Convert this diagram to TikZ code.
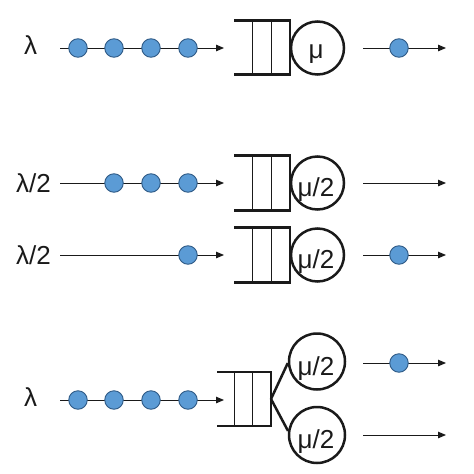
\documentclass[tikz,border=0pt]{standalone}
\usepackage{fontspec}
\setmainfont{Liberation Sans}
\usetikzlibrary{arrows.meta}
\definecolor{dotfill}{HTML}{5B9BD5}
\definecolor{dotline}{HTML}{2E5A86}
\definecolor{ink}{HTML}{1A1A1A}
\begin{document}
\begin{tikzpicture}[x=1pt,y=-1pt,
  dot/.style={circle,draw=dotline,line width=0.9pt,fill=dotfill,inner sep=0pt,minimum size=18.5pt},
  flow/.style={draw=ink,line width=1pt,-{Triangle[length=8pt,width=6.5pt]}},
  qedge/.style={draw=ink,line width=2.8pt},
  qslot/.style={draw=ink,line width=1pt},
  server/.style={circle,draw=ink,line width=2.5pt,inner sep=0pt,minimum size=53pt},
  lab/.style={text=ink,font=\fontsize{26}{30}\selectfont,inner sep=0pt,anchor=base},
  link/.style={draw=ink,line width=2.5pt}]
\useasboundingbox (0,0) rectangle (474,474);
\fill[white] (0,0) rectangle (474,474);

% ---------- row 1 ----------
\node[lab] (l1) at (30.5,54.5) {λ};
\coordinate (a1s) at (60,48);
\coordinate (a1e) at (224,48);
\draw[flow] (a1s) -- (a1e);
\foreach \x [count=\i] in {78,114,151,188} \node[dot] (d1\i) at (\x,48) {};
\draw[qedge] (234,20.7) -- (290,20.7) -- (290,74.3) -- (234,74.3);
\draw[qslot] (252,20.7) -- (252,74.3) (271,20.7) -- (271,74.3);
\node[server] (s1) at (317.5,48) {};
\node[lab] (m1) at (316,58) {μ};
\coordinate (o1s) at (363,48);
\coordinate (o1e) at (446,48);
\draw[flow] (o1s) -- (o1e);
\node[dot] (e1) at (399,48) {};

% ---------- row 2 ----------
\node[lab] (l2) at (33.5,192) {λ/2};
\coordinate (a2s) at (60,183);
\coordinate (a2e) at (224,183);
\draw[flow] (a2s) -- (a2e);
\foreach \x [count=\i] in {114,151,188} \node[dot] (d2\i) at (\x,183) {};
\draw[qedge] (234,155.5) -- (290,155.5) -- (290,210.5) -- (234,210.5);
\draw[qslot] (252,155.5) -- (252,210.5) (271,155.5) -- (271,210.5);
\node[server] (s2) at (317.5,183) {};
\node[lab] (m2) at (316,196) {μ/2};
\coordinate (o2s) at (363,183);
\coordinate (o2e) at (446,183);
\draw[flow] (o2s) -- (o2e);

% ---------- row 3 ----------
\node[lab] (l3) at (33.5,264) {λ/2};
\coordinate (a3s) at (60,255);
\coordinate (a3e) at (224,255);
\draw[flow] (a3s) -- (a3e);
\node[dot] (d31) at (188,255) {};
\draw[qedge] (234,227.5) -- (290,227.5) -- (290,282.5) -- (234,282.5);
\draw[qslot] (252,227.5) -- (252,282.5) (271,227.5) -- (271,282.5);
\node[server] (s3) at (317.5,255) {};
\node[lab] (m3) at (316,268) {μ/2};
\coordinate (o3s) at (363,255);
\coordinate (o3e) at (446,255);
\draw[flow] (o3s) -- (o3e);
\node[dot] (e3) at (399,255) {};

% ---------- row 4 ----------
\node[lab] (l4) at (30.5,406.5) {λ};
\coordinate (a4s) at (60,400);
\coordinate (a4e) at (224,400);
\draw[flow] (a4s) -- (a4e);
\foreach \x [count=\i] in {78,114,151,188} \node[dot] (d4\i) at (\x,400) {};
\draw[qedge] (217,372) -- (271,372) -- (271,426) -- (217,426);
\draw[qslot] (234,372) -- (234,426) (252.5,372) -- (252.5,426);
\coordinate (q4) at (271,399);
\node[server,minimum size=56pt] (s4a) at (317,361.5) {};
\node[server,minimum size=56pt] (s4b) at (317,435) {};
\draw[link] (q4) -- (s4a.183);
\draw[link] (q4) -- (s4b.172);
\node[lab] (m4a) at (316,375) {μ/2};
\node[lab] (m4b) at (316,448) {μ/2};
\coordinate (o4as) at (363,363);
\coordinate (o4ae) at (446,363);
\draw[flow] (o4as) -- (o4ae);
\node[dot] (e4) at (399,363) {};
\coordinate (o4bs) at (363,435);
\coordinate (o4be) at (446,435);
\draw[flow] (o4bs) -- (o4be);
\end{tikzpicture}
\end{document}
